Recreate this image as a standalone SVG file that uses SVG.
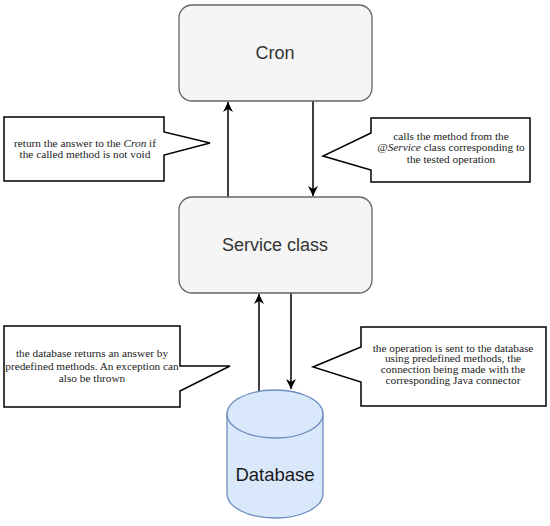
<svg xmlns="http://www.w3.org/2000/svg" width="550" height="526" viewBox="0 0 550 526">
<style>
.node{fill:#f5f5f5;stroke:#666666;stroke-width:1.3}
.db{fill:#dae8fc;stroke:#6c8ebf;stroke-width:1.3}
.lbl{font-family:"Liberation Sans",Arial,sans-serif;font-size:18px;fill:#333333;text-anchor:middle}
.call{fill:#ffffff;stroke:#000000;stroke-width:1.5}
.ct{font-family:"Liberation Serif","Times New Roman",serif;font-size:11.3px;fill:#222222;text-anchor:middle}
.edge{stroke:#000000;stroke-width:1.5;fill:none}
</style>
<defs>
<marker id="ah" viewBox="0 0 10 10" refX="10" refY="5" markerWidth="10" markerHeight="10" markerUnits="userSpaceOnUse" orient="auto">
<path d="M0,0 L10,5 L0,10 L3,5 Z" fill="#000000"/>
</marker>
</defs>
<rect width="550" height="526" fill="#ffffff"/>
<g id="edges">
<line class="edge" x1="228" y1="197" x2="228" y2="102" marker-end="url(#ah)"/>
<line class="edge" x1="313" y1="101" x2="313" y2="196" marker-end="url(#ah)"/>
<line class="edge" x1="259" y1="391" x2="259" y2="294" marker-end="url(#ah)"/>
<line class="edge" x1="291" y1="293" x2="291" y2="389" marker-end="url(#ah)"/>
</g>
<g id="cron">
<rect class="node" x="179" y="5" width="193" height="96" rx="13"/>
<text class="lbl" x="275" y="59">Cron</text>
</g>
<g id="service">
<rect class="node" x="179" y="197" width="193" height="96" rx="13"/>
<text class="lbl" x="275" y="251">Service class</text>
</g>
<g id="database">
<path class="db" d="M227,414 A48,24 0 0 1 323,414 V494 A48,24 0 0 1 227,494 Z"/>
<path class="db" d="M227,414 A48,24 0 0 0 323,414" fill="none"/>
<text class="lbl" x="275" y="481" style="fill:#1a1a1a;font-size:18.5px">Database</text>
</g>
<g id="note-return">
<path class="call" d="M4,117 H164 V132 L210,143 L164,155 V181 H4 Z"/>
<text class="ct" x="85" y="147">return the answer to the <tspan font-style="italic">Cron</tspan> if</text>
<text class="ct" x="85" y="157.5">the called method is not void</text>
</g>
<g id="note-calls">
<path class="call" d="M371,118 H530 V182 H371 V170 L323,156 L371,133 Z"/>
<text class="ct" x="451" y="140">calls the method from the</text>
<text class="ct" x="451" y="151"><tspan font-style="italic">@Service</tspan> class corresponding to</text>
<text class="ct" x="451" y="162.5">the tested operation</text>
</g>
<g id="note-db-returns">
<path class="call" d="M4,326 H180 V366 L230,366 L180,391 V407 H4 Z"/>
<text class="ct" x="92" y="357">the database returns an answer by</text>
<text class="ct" x="92" y="369.5">predefined methods. An exception can</text>
<text class="ct" x="92" y="382">also be thrown</text>
</g>
<g id="note-operation">
<path class="call" d="M361,327 H546 V406 H361 V382 L313,367 L361,347 Z"/>
<text class="ct" x="453" y="351.5">the operation is sent to the database</text>
<text class="ct" x="453" y="362">using predefined methods, the</text>
<text class="ct" x="453" y="372.5">connection being made with the</text>
<text class="ct" x="453" y="383.5">corresponding Java connector</text>
</g>
</svg>
